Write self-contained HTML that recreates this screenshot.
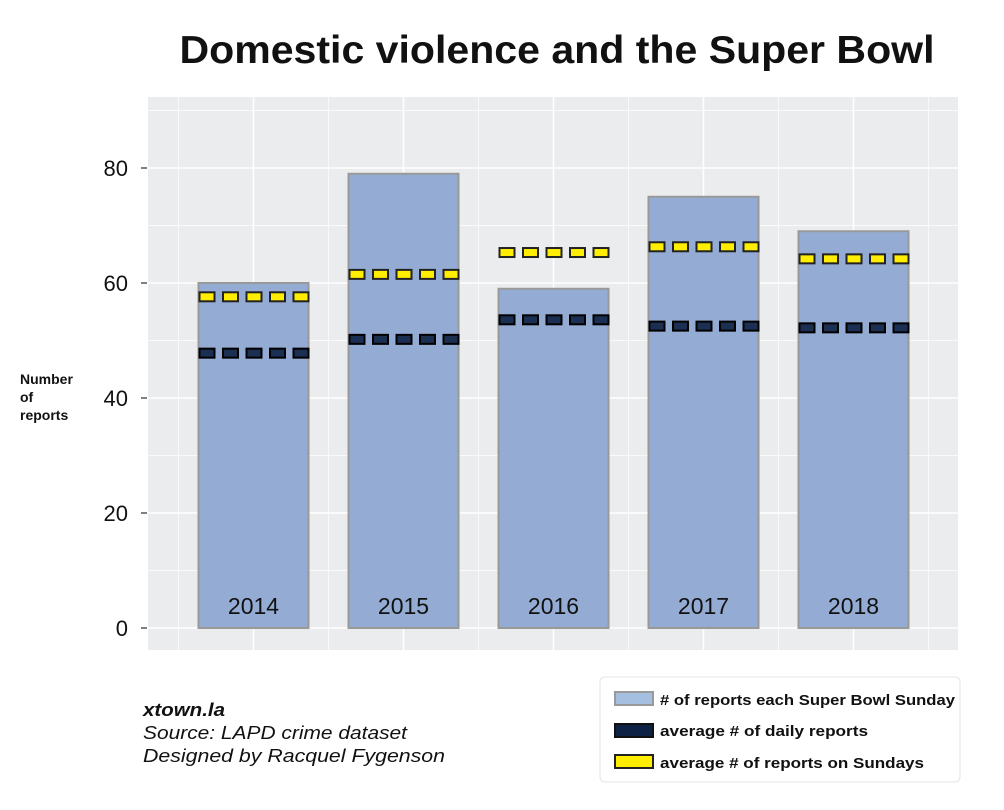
<!DOCTYPE html>
<html><head><meta charset="utf-8"><style>
body{margin:0;background:#fff;font-family:"Liberation Sans",sans-serif;}
svg{display:block}
</style></head><body>
<svg width="1004" height="810" viewBox="0 0 1004 810" xmlns="http://www.w3.org/2000/svg">
<text x="557" y="63" text-anchor="middle" font-size="39" font-weight="bold" fill="#111" textLength="755" lengthAdjust="spacingAndGlyphs">Domestic violence and the Super Bowl</text>
<rect x="148" y="97" width="810" height="553" fill="#ebecee"/>
<g id="grid"></g>
<g id="yaxis"></g>
<g id="bars"></g>
<text font-size="14" font-weight="bold" fill="#111"><tspan x="20" y="384">Number</tspan><tspan x="20" y="402">of</tspan><tspan x="20" y="420">reports</tspan></text>
<g font-size="18" font-style="italic" fill="#111">
<text x="143" y="716" font-weight="bold" textLength="82" lengthAdjust="spacingAndGlyphs">xtown.la</text>
<text x="143" y="739" textLength="264" lengthAdjust="spacingAndGlyphs">Source: LAPD crime dataset</text>
<text x="143" y="762" textLength="302" lengthAdjust="spacingAndGlyphs">Designed by Racquel Fygenson</text>
</g>
<g>
<rect x="600" y="677" width="360" height="105" rx="5" fill="#fff" stroke="#e4e4e4"/>
<g><rect x="615" y="692" width="38" height="13" fill="#a4bfe0" stroke="#999" stroke-width="2"/><text x="660" y="705" font-size="15" font-weight="bold" fill="#111" textLength="295" lengthAdjust="spacingAndGlyphs"># of reports each Super Bowl Sunday</text></g>
<g><rect x="615" y="724" width="38" height="13" fill="#0d2244" stroke="#111" stroke-width="2"/><text x="660" y="736" font-size="15" font-weight="bold" fill="#111" textLength="208" lengthAdjust="spacingAndGlyphs">average # of daily reports</text></g>
<g><rect x="615" y="755" width="38" height="13" fill="#ffee00" stroke="#222" stroke-width="2"/><text x="660" y="768" font-size="15" font-weight="bold" fill="#111" textLength="264" lengthAdjust="spacingAndGlyphs">average # of reports on Sundays</text></g>
</g>
</svg>
<script>
const years=["2014","2015","2016","2017","2018"];
const superBowl=[60,79,59,75,69];
const dailyAvg=[47.8,50.2,53.6,52.5,52.2];
const sundayAvg=[57.6,61.5,65.3,66.3,64.2];
const yTicks=[0,20,40,60,80];
const NS="http://www.w3.org/2000/svg";
const y=v=>628-v*5.75;
const x=i=>253.5+i*150;
function mk(t,a,p){const e=document.createElementNS(NS,t);for(const k in a)e.setAttribute(k,a[k]);p.appendChild(e);return e;}
const grid=document.getElementById('grid'),ya=document.getElementById('yaxis'),bars=document.getElementById('bars');
for(let v=-10;v<=90;v+=10){const yy=y(v);if(yy<97||yy>650)continue;const g=mk('line',{x1:148,x2:958,y1:yy,y2:yy,stroke:'#fff','stroke-width':v%20===0?1.5:0.7},grid);

}
for(let k=-1;k<=10;k++){const xx=253.5+k*75;if(xx<148||xx>958)continue;const g=mk('line',{x1:xx,x2:xx,y1:97,y2:650,stroke:'#fff','stroke-width':k%2===0?1.5:0.7},grid);

}
yTicks.forEach(v=>{const t=mk('text',{x:128,y:y(v)+8,'text-anchor':'end','font-size':22,fill:'#111'},ya);t.textContent=v;


const m=mk('line',{x1:141,x2:147,y1:y(v),y2:y(v),stroke:'#555','stroke-width':1.5},ya);

});
years.forEach((yr,i)=>{const bw=110,l=x(i)-bw/2;
const r=mk('rect',{x:l,y:y(superBowl[i]),width:bw,height:y(0)-y(superBowl[i]),fill:'#94abd4',stroke:'#999','stroke-width':2},bars);


[[dailyAvg,'#1b2f52','#000','daily-avg-'],[sundayAvg,'#ffee00','#222','sunday-avg-']].forEach(([arr,f,s,n])=>{
for(let d=0;d<5;d++){const dd=mk('rect',{x:l+1+d*23.5,y:y(arr[i])-4.5,width:15,height:9,fill:f,stroke:s,'stroke-width':2},bars);

}});
const t=mk('text',{x:x(i),y:614,'text-anchor':'middle','font-size':23,fill:'#111'},bars);t.textContent=yr;

});
</script>
</body></html>
